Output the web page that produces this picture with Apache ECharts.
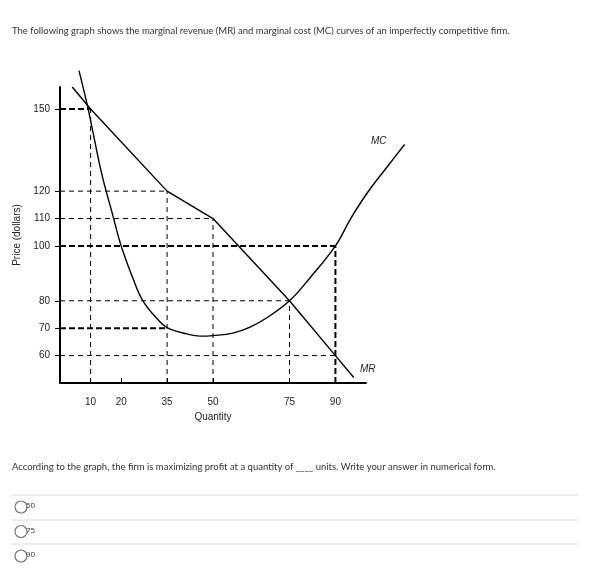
<!DOCTYPE html>
<html>
<head>
<meta charset="utf-8">
<script src="https://cdn.jsdelivr.net/npm/echarts@6/dist/echarts.min.js"></script>
<style>
html,body{margin:0;padding:0;background:#fff;}
#chart{width:591px;height:580px;}
</style>
</head>
<body>
<div id="chart"></div>
<script>
// ---- data ----
var xTickValues = [10, 20, 35, 50, 75, 90];
var yTickValues = [60, 70, 80, 100, 110, 120, 150];
var mrPoints = [[4, 158], [10, 150], [35, 120], [50, 110], [75, 80], [90, 60], [96, 52]];
var mcPoints = [[6.2, 164], [8.8, 152], [10.5, 143], [13.7, 126], [17.3, 111], [20, 100], [23.9, 88], [27.1, 80], [31.7, 73.5], [35, 70.2], [41.5, 67.9], [45.8, 67.1], [50, 67.3], [56.5, 68.2], [62.1, 70.4], [67.6, 73.8], [75, 80], [81.8, 88.5], [90, 100], [95, 110], [100.5, 119.5], [107, 129], [112.6, 137]];
var hGuideY = [150, 120, 110, 100, 80, 70, 60];
var hGuideToX = [10, 35, 50, 90, 75, 35, 90];
var hGuideBold = [true, false, false, true, false, true, false];
var vGuideX = [10, 35, 50, 75, 90];
var vGuideToY = [150, 120, 110, 80, 100];
var vGuideBold = [false, false, false, false, true];
var answerOptions = ['50', '75', '90'];

var Y_MIN = 50, Y_MAX = 158, X_MIN = 0, X_MAX = 100, X_MAX_CURVES = 115;
var PX_PER_X = 3.06;
var GRID_LEFT = 60, GRID_TOP = 87, GRID_H = 296;

var chart = echarts.init(document.getElementById('chart'), null, {renderer: 'canvas'});

function guideStyle(bold) {
  return bold ? {color: '#000', width: 2, type: [6, 3]} : {color: '#000', width: 1, type: [5, 4]};
}

var series = [];
hGuideY.forEach(function (y, i) {
  series.push({
    type: 'line', silent: true, symbol: 'none', animation: false,
    data: [[X_MIN, y], [hGuideToX[i], y]],
    lineStyle: guideStyle(hGuideBold[i]), z: 1
  });
});
vGuideX.forEach(function (x, i) {
  series.push({
    type: 'line', silent: true, symbol: 'none', animation: false,
    data: [[x, Y_MIN], [x, vGuideToY[i]]],
    lineStyle: guideStyle(vGuideBold[i]), z: 1
  });
});
series.push({
  name: 'MR', type: 'line', symbol: 'none', animation: false, clip: false,
  xAxisIndex: 1, yAxisIndex: 1,
  data: mrPoints, lineStyle: {color: '#000', width: 1.4}, z: 3
});
series.push({
  name: 'MC', type: 'line', symbol: 'none', animation: false, clip: false, smooth: 0.4,
  xAxisIndex: 1, yAxisIndex: 1,
  data: mcPoints, lineStyle: {color: '#000', width: 1.4}, z: 3
});

var graphics = [
  {type: 'text', left: 12, top: 26, style: {text: 'The following graph shows the marginal revenue (MR) and marginal cost (MC) curves of an imperfectly competitive firm.', font: '9.5px Lato', fill: '#333'}},
  {type: 'text', left: 12, top: 462, style: {text: 'According to the graph, the firm is maximizing profit at a quantity of ____ units. Write your answer in numerical form.', font: '9.5px Lato', fill: '#333'}},
  {type: 'text', x: 371, y: 141, style: {text: 'MC', font: 'italic 10px "Liberation Sans"', fill: '#222', verticalAlign: 'middle'}},
  {type: 'text', x: 360, y: 369, style: {text: 'MR', font: 'italic 10px "Liberation Sans"', fill: '#222', verticalAlign: 'middle'}}
];
var lineYs = [495, 520, 544];
lineYs.forEach(function (ly) {
  graphics.push({type: 'line', shape: {x1: 12, y1: ly, x2: 578, y2: ly}, style: {stroke: '#dcdcdc', lineWidth: 1}});
});
answerOptions.forEach(function (t, i) {
  var cy = 507 + i * 24.5;
  graphics.push({type: 'circle', shape: {cx: 21, cy: cy, r: 6}, style: {fill: '#fff', stroke: '#777', lineWidth: 1.2}});
  graphics.push({type: 'text', x: 26, y: cy - 1, style: {text: t, font: '8px "Open Sans"', fill: '#333', verticalAlign: 'middle'}});
});

var labelFont = {fontFamily: 'Liberation Sans', fontSize: 10, color: '#222'};

chart.setOption({
  backgroundColor: '#fff',
  animation: false,
  grid: [
    {left: GRID_LEFT, top: GRID_TOP, width: (X_MAX - X_MIN) * PX_PER_X, height: GRID_H, containLabel: false},
    {left: GRID_LEFT, top: GRID_TOP, width: (X_MAX_CURVES - X_MIN) * PX_PER_X, height: GRID_H, containLabel: false}
  ],
  xAxis: [{
    gridIndex: 0, type: 'value', min: X_MIN, max: X_MAX,
    name: 'Quantity', nameLocation: 'middle', nameGap: 26,
    nameTextStyle: labelFont,
    axisLine: {show: true, lineStyle: {color: '#000', width: 2}},
    axisTick: {show: true, inside: true, length: 5, customValues: xTickValues, lineStyle: {color: '#000', width: 1}},
    axisLabel: Object.assign({show: true, customValues: xTickValues, margin: 14}, labelFont),
    splitLine: {show: false}
  }, {
    gridIndex: 1, type: 'value', min: X_MIN, max: X_MAX_CURVES, show: false,
    splitLine: {show: false}
  }],
  yAxis: [{
    gridIndex: 0, type: 'value', min: Y_MIN, max: Y_MAX,
    name: 'Price (dollars)', nameLocation: 'middle', nameGap: 35,
    nameTextStyle: labelFont,
    axisLine: {show: true, lineStyle: {color: '#000', width: 2}},
    axisTick: {show: true, inside: false, length: 5, customValues: yTickValues, lineStyle: {color: '#000', width: 1}},
    axisLabel: Object.assign({show: true, customValues: yTickValues, margin: 10}, labelFont),
    splitLine: {show: false}
  }, {
    gridIndex: 1, type: 'value', min: Y_MIN, max: Y_MAX, show: false,
    splitLine: {show: false}
  }],
  graphic: graphics,
  series: series
});
</script>
</body>
</html>
